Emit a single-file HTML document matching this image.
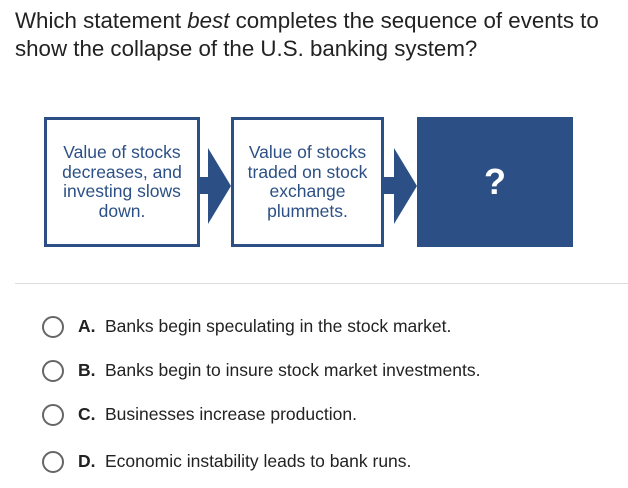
<!DOCTYPE html>
<html><head><style>
body{margin:0;width:628px;height:488px;background:#fff;font-family:"Liberation Sans",sans-serif;position:relative;overflow:hidden}
.t{position:absolute;left:15px;top:7px;font-size:22.3px;line-height:28px;color:#222;white-space:nowrap}
.box{position:absolute;top:117px;height:124px;border:3px solid #2c5085;background:#fff;color:#2c5085;font-size:17.5px;line-height:19.5px;text-align:center;display:flex;align-items:center;justify-content:center;white-space:nowrap}
.hr{position:absolute;left:15px;right:0;top:283px;height:1px;background:#ddd}
.o{position:absolute;left:42px;font-size:17.5px;color:#222;line-height:20px}
.o span.c{position:absolute;left:0;top:0;width:18px;height:18px;border:2px solid #666;border-radius:50%}
.o b{position:absolute;left:36px;}
.o i{position:absolute;left:63px;font-style:normal;white-space:nowrap}
</style></head><body>
<div class="t">Which statement <i>best</i> completes the sequence of events to<br>show the collapse of the U.S. banking system?</div>
<div class="box" style="left:44px;width:150px">Value of stocks<br>decreases, and<br>investing slows<br>down.</div>
<div class="box" style="left:231px;width:147px">Value of stocks<br>traded on stock<br>exchange<br>plummets.</div>
<div class="box" style="left:417px;width:156px;height:130px;border:none;background:#2c5085;color:#fff;font-size:36px;font-weight:bold">?</div>
<svg style="position:absolute;left:0;top:0" width="628" height="488">
<rect x="200" y="177" width="10" height="17" fill="#2c5085"/>
<polygon points="208,148 231,186 208,224" fill="#2c5085"/>
<rect x="384" y="177" width="12" height="17" fill="#2c5085"/>
<polygon points="394,148 417,186 394,224" fill="#2c5085"/>
</svg>
<div class="hr"></div>
<div class="o" style="top:316px"><span class="c"></span><b>A.</b><i>Banks begin speculating in the stock market.</i></div>
<div class="o" style="top:360px"><span class="c"></span><b>B.</b><i>Banks begin to insure stock market investments.</i></div>
<div class="o" style="top:404px"><span class="c"></span><b>C.</b><i>Businesses increase production.</i></div>
<div class="o" style="top:451px"><span class="c"></span><b>D.</b><i>Economic instability leads to bank runs.</i></div>
</body></html>
